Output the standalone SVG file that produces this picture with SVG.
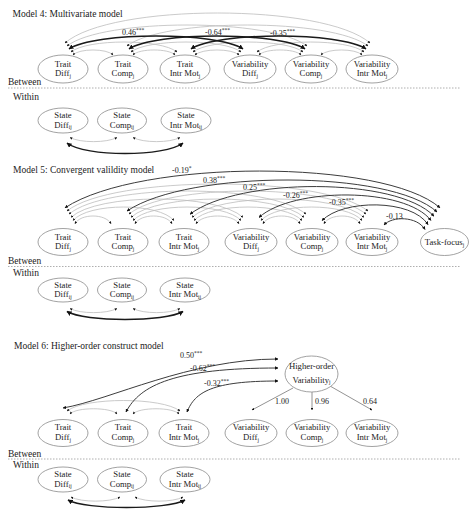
<svg xmlns="http://www.w3.org/2000/svg" width="474" height="518" viewBox="0 0 474 518" font-family="'Liberation Serif', 'Times New Roman', serif">
<defs>
<marker id="a" viewBox="0 0 10 10" refX="9" refY="5" markerWidth="2.6" markerHeight="2.6" markerUnits="userSpaceOnUse" orient="auto-start-reverse"><path d="M0,0L10,5L0,10z" fill="#111"/></marker>
<marker id="am" viewBox="0 0 10 10" refX="9" refY="5" markerWidth="3.4" markerHeight="3.4" markerUnits="userSpaceOnUse" orient="auto-start-reverse"><path d="M0,0L10,5L0,10z" fill="#111"/></marker>
<marker id="ab" viewBox="0 0 10 10" refX="9" refY="5" markerWidth="5" markerHeight="5" markerUnits="userSpaceOnUse" orient="auto-start-reverse"><path d="M0,0L10,5L0,10z" fill="#111"/></marker>
</defs>
<style>
text{font-family:"Liberation Serif","Times New Roman",serif;fill:#222}
.ti{font-size:9.5px}
.lv{font-size:9.5px}
.t{font-size:8.7px;text-anchor:middle}
.lb{font-size:8px}
.sb{font-size:5.5px}
.sp{font-size:5.5px}
.n ellipse{fill:#fff;stroke:#8a8a8a;stroke-width:0.8}
.g{fill:none;stroke:#bdbdbd;stroke-width:0.8;marker-start:url(#a);marker-end:url(#a)}
.b{fill:none;stroke:#1a1a1a;stroke-width:1.5;marker-start:url(#ab);marker-end:url(#ab)}
.d{fill:none;stroke:#3c3c3c;stroke-width:1;marker-start:url(#am);marker-end:url(#am)}
.l{fill:none;stroke:#777;stroke-width:0.8;marker-end:url(#a)}
.dash{stroke:#9a9a9a;stroke-width:0.8;stroke-dasharray:1.5 1.5}
</style>

<!-- Titles and level labels -->
<text class="ti" x="12.5" y="17">Model 4: Multivariate model</text>
<text class="ti" x="13" y="173">Model 5: Convergent valildity model</text>
<text class="ti" x="14" y="349">Model 6: Higher-order construct model</text>
<text class="lv" x="8" y="84.5">Between</text>
<text class="lv" x="13" y="100">Within</text>
<line class="dash" x1="8" y1="88" x2="460" y2="88"/>
<text class="lv" x="8" y="264">Between</text>
<text class="lv" x="13" y="276">Within</text>
<line class="dash" x1="8" y1="266.5" x2="460" y2="266.5"/>
<text class="lv" x="8" y="456.5">Between</text>
<text class="lv" x="13" y="468">Within</text>
<line class="dash" x1="8" y1="459" x2="460" y2="459"/>

<g id="connectors">
<!-- Model 4 between -->
<path class="g" d="M73,55 C79,48.3 107,48.3 113,55"/>
<path class="g" d="M133,55 C139,48.3 169,48.3 175,55"/>
<path class="g" d="M195,55 C202,48.3 232,48.3 239,55"/>
<path class="g" d="M259,55 C265,48.3 295,48.3 301,55"/>
<path class="g" d="M321,55 C327,48.3 356,48.3 362,55"/>
<path class="g" d="M71,52 C87,38.7 161,38.7 177,52"/>
<path class="g" d="M131,52 C147.5,38.7 224.5,38.7 241,52"/>
<path class="g" d="M193,52 C209.5,38.7 286.5,38.7 303,52"/>
<path class="g" d="M257,52 C273,38.7 348,38.7 364,52"/>
<path class="g" d="M67,46 C103,18 271,18 307,46"/>
<path class="g" d="M127,46 C163,18 332,18 368,46"/>
<path class="g" d="M65,43 C111,3 324,3 370,43"/>
<path class="b" d="M69,49 C95,31.7 217,31.7 243,49"/>
<path class="b" d="M129,49 C155,31.7 279,31.7 305,49"/>
<path class="b" d="M191,49 C217,31.7 340,31.7 366,49"/>
<!-- Model 4 within -->
<path class="g" d="M70,137.5 C80,143 107,143 117,137.5"/>
<path class="g" d="M133,137.5 C143,143 170,143 180,137.5"/>
<path class="b" d="M67,143 C85,157 165,157 183,143"/>

<!-- Model 5 between -->
<path class="g" d="M75,223.8 C80.4,213.4 105.6,213.4 111,223.8"/>
<path class="g" d="M135,223.8 C140.6,213.4 166.4,213.4 172,223.8"/>
<path class="g" d="M196,223.8 C202.5,213.4 232.5,213.4 239,223.8"/>
<path class="g" d="M263,223.8 C268.6,213.4 294.4,213.4 300,223.8"/>
<path class="g" d="M324,223.8 C329.4,213.4 354.6,213.4 360,223.8"/>
<path class="g" d="M73,220.6 C88,202.5 159,202.5 174,220.6"/>
<path class="g" d="M133,220.6 C149,202.5 225,202.5 241,220.6"/>
<path class="g" d="M194,220.6 C210,202.5 286,202.5 302,220.6"/>
<path class="g" d="M261,220.6 C276,202.5 347,202.5 362,220.6"/>
<path class="g" d="M71,217.4 C97,192.9 217,192.9 243,217.4"/>
<path class="g" d="M131,217.4 C157,192.9 278,192.9 304,217.4"/>
<path class="g" d="M192,217.4 C218,192.9 338,192.9 364,217.4"/>
<path class="g" d="M69,214.2 C105,183.3 270,183.3 306,214.2"/>
<path class="g" d="M129,214.2 C165,183.3 330,183.3 366,214.2"/>
<path class="g" d="M67,211 C112,175 323,175 368,211"/>
<path class="d" d="M65,207.8 C140,158.8 384,158.8 440,207.8"/>
<path class="d" d="M127,211 C189,169.5 391,169.5 437,212"/>
<path class="d" d="M190,214.2 C239,177 397,177 434,216.2"/>
<path class="d" d="M259,217.4 C293,187 405,187 431,220.4"/>
<path class="d" d="M322,220.6 C343,199 412,199 428,224.6"/>
<path class="d" d="M384,225 C392,216 417,216 425,229.5"/>
<!-- Model 5 within -->
<path class="g" d="M70,308.5 C80,314 107,314 117,308.5"/>
<path class="g" d="M133,308.5 C143,314 170,314 180,308.5"/>
<path class="b" d="M67,311.5 C85,322 165,322 183,311.5"/>

<!-- Model 6 between -->
<path class="g" d="M70,414 C76,407 111,407 117,414"/>
<path class="g" d="M133,414 C139,407 173,407 179,414"/>
<path class="g" d="M67,411 C85,397 162,397 180,411"/>
<path class="d" d="M63,408 C110,400 190,359 278,359"/>
<path class="d" d="M126,412 C140,385 175,368 278,368"/>
<path class="d" d="M187,412 C195,392 212,381 278,381"/>
<path class="l" d="M293,388 L252,410"/>
<path class="l" d="M312,392 L312,410"/>
<path class="l" d="M330,386 L372,410"/>
<!-- Model 6 within -->
<path class="g" d="M71,497 C81,502.5 110,502.5 120,497"/>
<path class="g" d="M135,497 C145,502.5 173,502.5 183,497"/>
<path class="b" d="M68,500 C86,510 167,510 185,500"/>

<!-- labels -->
<text class="lb" x="122" y="35">0.46<tspan class="sp" dy="-3">***</tspan></text>
<text class="lb" x="205" y="35">-0.64<tspan class="sp" dy="-3">***</tspan></text>
<text class="lb" x="270" y="36">-0.35<tspan class="sp" dy="-3">***</tspan></text>
<text class="lb" x="172" y="173">-0.19<tspan class="sp" dy="-3">*</tspan></text>
<text class="lb" x="203" y="183">0.38<tspan class="sp" dy="-3">***</tspan></text>
<text class="lb" x="243" y="189.5">0.25<tspan class="sp" dy="-3">***</tspan></text>
<text class="lb" x="283" y="197.5">-0.26<tspan class="sp" dy="-3">***</tspan></text>
<text class="lb" x="329" y="205">-0.35<tspan class="sp" dy="-3">***</tspan></text>
<text class="lb" x="386" y="219">-0.13</text>
<text class="lb" x="180" y="358">0.50<tspan class="sp" dy="-3">***</tspan></text>
<text class="lb" x="190" y="371">-0.62<tspan class="sp" dy="-3">***</tspan></text>
<text class="lb" x="204" y="386">-0.32<tspan class="sp" dy="-3">***</tspan></text>
<text class="lb" x="275" y="404">1.00</text>
<text class="lb" x="315" y="404">0.96</text>
<text class="lb" x="363" y="404">0.64</text>
</g>

<!-- Model 4 nodes -->
<g id="m4-trait-diff" class="n"><ellipse cx="63" cy="69" rx="25" ry="14"/><text class="t" x="63" y="66.5">Trait</text><text class="t" x="63" y="76">Diff<tspan class="sb" dy="1.5">j</tspan></text></g>
<g id="m4-trait-comp" class="n"><ellipse cx="123" cy="69" rx="25" ry="14"/><text class="t" x="123" y="66.5">Trait</text><text class="t" x="123" y="76">Comp<tspan class="sb" dy="1.5">j</tspan></text></g>
<g id="m4-trait-intr" class="n"><ellipse cx="185" cy="69" rx="25" ry="14"/><text class="t" x="185" y="66.5">Trait</text><text class="t" x="185" y="76">Intr Mot<tspan class="sb" dy="1.5">j</tspan></text></g>
<g id="m4-var-diff" class="n"><ellipse cx="250" cy="69" rx="26" ry="14"/><text class="t" x="250" y="66.5">Variability</text><text class="t" x="250" y="76">Diff<tspan class="sb" dy="1.5">j</tspan></text></g>
<g id="m4-var-comp" class="n"><ellipse cx="311" cy="69" rx="26" ry="14"/><text class="t" x="311" y="66.5">Variability</text><text class="t" x="311" y="76">Comp<tspan class="sb" dy="1.5">j</tspan></text></g>
<g id="m4-var-intr" class="n"><ellipse cx="372" cy="69" rx="26" ry="14"/><text class="t" x="372" y="66.5">Variability</text><text class="t" x="372" y="76">Intr Mot<tspan class="sb" dy="1.5">j</tspan></text></g>
<g id="m4-state-diff" class="n"><ellipse cx="63" cy="120.5" rx="25" ry="12.5"/><text class="t" x="63" y="118">State</text><text class="t" x="63" y="127.5">Diff<tspan class="sb" dy="1.5">ij</tspan></text></g>
<g id="m4-state-comp" class="n"><ellipse cx="122" cy="120.5" rx="24.5" ry="12.5"/><text class="t" x="122" y="118">State</text><text class="t" x="122" y="127.5">Comp<tspan class="sb" dy="1.5">ij</tspan></text></g>
<g id="m4-state-intr" class="n"><ellipse cx="186" cy="120.5" rx="25" ry="12.5"/><text class="t" x="186" y="118">State</text><text class="t" x="186" y="127.5">Intr Mot<tspan class="sb" dy="1.5">ij</tspan></text></g>

<!-- Model 5 nodes -->
<g id="m5-trait-diff" class="n"><ellipse cx="63" cy="242" rx="25" ry="13.5"/><text class="t" x="63" y="239.5">Trait</text><text class="t" x="63" y="249">Diff<tspan class="sb" dy="1.5">j</tspan></text></g>
<g id="m5-trait-comp" class="n"><ellipse cx="123" cy="242" rx="25" ry="13.5"/><text class="t" x="123" y="239.5">Trait</text><text class="t" x="123" y="249">Comp<tspan class="sb" dy="1.5">j</tspan></text></g>
<g id="m5-trait-intr" class="n"><ellipse cx="184" cy="242" rx="25" ry="13.5"/><text class="t" x="184" y="239.5">Trait</text><text class="t" x="184" y="249">Intr Mot<tspan class="sb" dy="1.5">j</tspan></text></g>
<g id="m5-var-diff" class="n"><ellipse cx="251" cy="242" rx="26" ry="13.5"/><text class="t" x="251" y="239.5">Variability</text><text class="t" x="251" y="249">Diff<tspan class="sb" dy="1.5">j</tspan></text></g>
<g id="m5-var-comp" class="n"><ellipse cx="312" cy="242" rx="26" ry="13.5"/><text class="t" x="312" y="239.5">Variability</text><text class="t" x="312" y="249">Comp<tspan class="sb" dy="1.5">j</tspan></text></g>
<g id="m5-var-intr" class="n"><ellipse cx="372" cy="242" rx="26" ry="13.5"/><text class="t" x="372" y="239.5">Variability</text><text class="t" x="372" y="249">Intr Mot<tspan class="sb" dy="1.5">j</tspan></text></g>
<g id="m5-task" class="n"><ellipse cx="444.5" cy="242" rx="24" ry="13.5"/><text class="t" x="444.5" y="245">Task-focus<tspan class="sb" dy="1.5">j</tspan></text></g>
<g id="m5-state-diff" class="n"><ellipse cx="63" cy="290" rx="25" ry="12"/><text class="t" x="63" y="287.5">State</text><text class="t" x="63" y="297">Diff<tspan class="sb" dy="1.5">ij</tspan></text></g>
<g id="m5-state-comp" class="n"><ellipse cx="122" cy="290" rx="24.5" ry="12"/><text class="t" x="122" y="287.5">State</text><text class="t" x="122" y="297">Comp<tspan class="sb" dy="1.5">ij</tspan></text></g>
<g id="m5-state-intr" class="n"><ellipse cx="185" cy="290" rx="25" ry="12"/><text class="t" x="185" y="287.5">State</text><text class="t" x="185" y="297">Intr Mot<tspan class="sb" dy="1.5">ij</tspan></text></g>

<!-- Model 6 nodes -->
<g id="m6-higher" class="n"><ellipse cx="311.5" cy="374" rx="26.5" ry="18"/><text class="t" x="311.5" y="369">Higher-order</text><text class="t" x="311.5" y="382.5">Variability<tspan class="sb" dy="1.5">j</tspan></text></g>
<g id="m6-trait-diff" class="n"><ellipse cx="63" cy="433" rx="25" ry="13.5"/><text class="t" x="63" y="430">Trait</text><text class="t" x="63" y="440">Diff<tspan class="sb" dy="1.5">j</tspan></text></g>
<g id="m6-trait-comp" class="n"><ellipse cx="123" cy="433" rx="25" ry="13.5"/><text class="t" x="123" y="430">Trait</text><text class="t" x="123" y="440">Comp<tspan class="sb" dy="1.5">j</tspan></text></g>
<g id="m6-trait-intr" class="n"><ellipse cx="184" cy="433" rx="25" ry="13.5"/><text class="t" x="184" y="430">Trait</text><text class="t" x="184" y="440">Intr Mot<tspan class="sb" dy="1.5">j</tspan></text></g>
<g id="m6-var-diff" class="n"><ellipse cx="251" cy="433" rx="26" ry="13.5"/><text class="t" x="251" y="430">Variability</text><text class="t" x="251" y="440">Diff<tspan class="sb" dy="1.5">j</tspan></text></g>
<g id="m6-var-comp" class="n"><ellipse cx="312" cy="433" rx="26" ry="13.5"/><text class="t" x="312" y="430">Variability</text><text class="t" x="312" y="440">Comp<tspan class="sb" dy="1.5">j</tspan></text></g>
<g id="m6-var-intr" class="n"><ellipse cx="372" cy="433" rx="26" ry="13.5"/><text class="t" x="372" y="430">Variability</text><text class="t" x="372" y="440">Intr Mot<tspan class="sb" dy="1.5">j</tspan></text></g>
<g id="m6-state-diff" class="n"><ellipse cx="63" cy="479.5" rx="25" ry="12.5"/><text class="t" x="63" y="477">State</text><text class="t" x="63" y="486.5">Diff<tspan class="sb" dy="1.5">ij</tspan></text></g>
<g id="m6-state-comp" class="n"><ellipse cx="122" cy="479.5" rx="24.5" ry="12.5"/><text class="t" x="122" y="477">State</text><text class="t" x="122" y="486.5">Comp<tspan class="sb" dy="1.5">ij</tspan></text></g>
<g id="m6-state-intr" class="n"><ellipse cx="185" cy="479.5" rx="25" ry="12.5"/><text class="t" x="185" y="477">State</text><text class="t" x="185" y="486.5">Intr Mot<tspan class="sb" dy="1.5">ij</tspan></text></g>
</svg>
